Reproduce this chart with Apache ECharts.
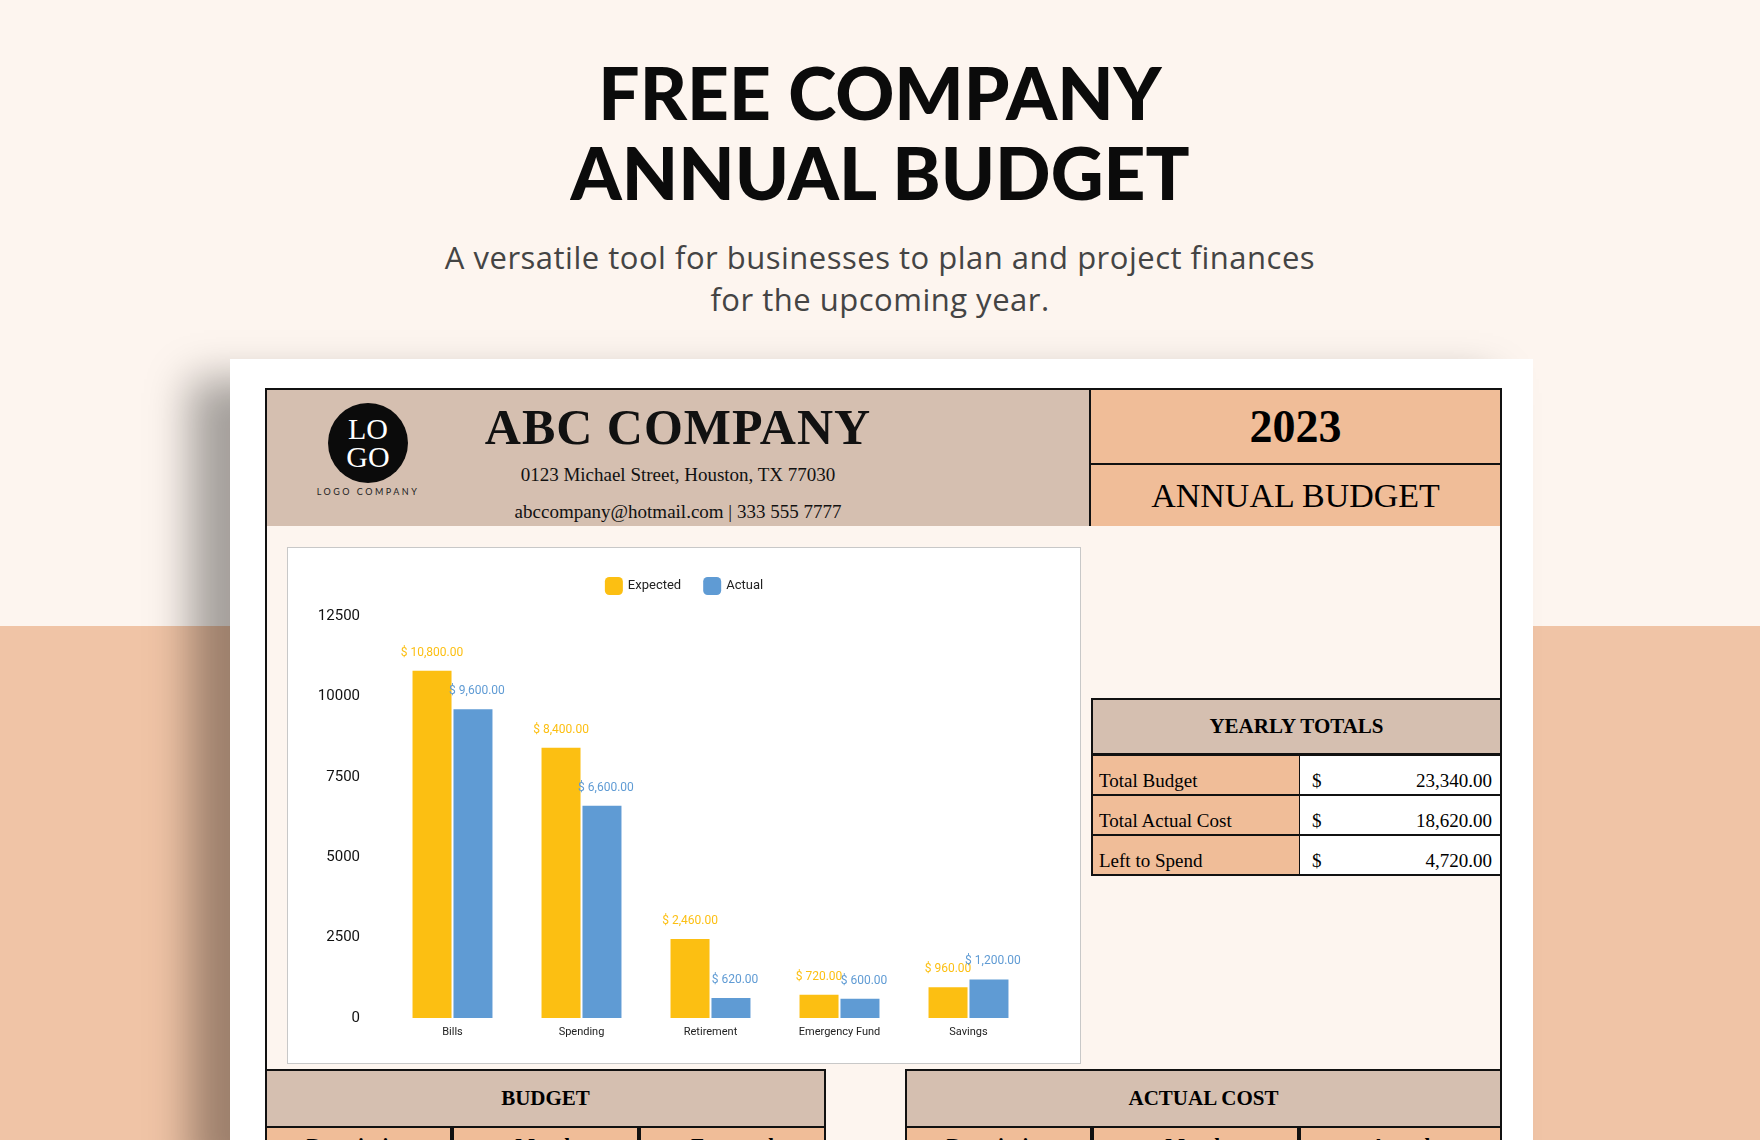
<!DOCTYPE html>
<html>
<head>
<meta charset="utf-8">
<script src="https://cdn.jsdelivr.net/npm/echarts@6/dist/echarts.min.js"></script>
<style>
body { margin: 0; width: 1760px; height: 1140px; overflow: hidden; position: relative; background: #f0c4a6; font-family: "Liberation Serif", serif; }
.abs { position: absolute; box-sizing: border-box; }
.sans { font-family: Lato, "Open Sans", sans-serif; }
.cell { display: flex; align-items: center; justify-content: center; }
</style>
</head>
<body>
<div class="abs" style="left:0;top:0;width:1760px;height:626px;background:#fdf5ef;"></div>
<div class="abs sans" style="left:0;top:52px;width:1760px;text-align:center;font-weight:900;font-size:73px;line-height:80px;color:#0b0b0b;">FREE COMPANY<br>ANNUAL BUDGET</div>
<div class="abs" style="left:0;top:236px;width:1760px;text-align:center;font-family:'Open Sans',sans-serif;font-size:31px;line-height:42px;color:#444;letter-spacing:0.5px;">A versatile tool for businesses to plan and project finances<br>for the upcoming year.</div>

<div class="abs" style="left:230px;top:359px;width:1303px;height:800px;background:#fff;box-shadow:-40px 20px 40px rgba(0,0,0,0.35);"></div>

<!-- header -->
<div class="abs" style="left:265px;top:388px;width:826px;height:140px;background:#d5bfb0;border:2px solid #111;"></div>
<div class="abs cell" style="left:328px;top:403px;width:80px;height:80px;border-radius:50%;background:#0b0b0b;color:#fff;font-size:30px;line-height:28px;text-align:center;">LO<br>GO</div>
<div class="abs sans" style="left:300px;top:486px;width:136px;text-align:center;font-size:9px;letter-spacing:2.5px;color:#222;">LOGO COMPANY</div>
<div class="abs" style="left:440px;top:398px;width:476px;text-align:center;font-size:50px;font-weight:bold;letter-spacing:1px;color:#111;">ABC COMPANY</div>
<div class="abs" style="left:440px;top:464px;width:476px;text-align:center;font-size:19px;color:#111;">0123 Michael Street, Houston, TX 77030</div>
<div class="abs" style="left:440px;top:501px;width:476px;text-align:center;font-size:19px;color:#111;">abccompany@hotmail.com | 333 555 7777</div>
<div class="abs cell" style="left:1089px;top:388px;width:413px;height:77px;background:#f0bd98;border:2px solid #111;font-size:46px;font-weight:bold;">2023</div>
<div class="abs cell" style="left:1089px;top:463px;width:413px;height:65px;background:#f0bd98;border:2px solid #111;font-size:34px;">ANNUAL BUDGET</div>

<!-- body -->
<div class="abs" style="left:265px;top:526px;width:1237px;height:620px;background:#fdf5ef;border-left:2px solid #111;border-right:2px solid #111;"></div>
<div id="chart" class="abs" style="left:287px;top:547px;width:794px;height:517px;background:#fff;border:1px solid #c8c8c8;"></div>

<!-- yearly totals -->
<div class="abs" style="left:1091px;top:698px;width:411px;height:178px;border:2px solid #111;background:#fdf5ef;"></div>
<div class="abs cell" style="left:1091px;top:698px;width:411px;height:57px;background:#d5bfb0;border:2px solid #111;font-size:21px;font-weight:bold;">YEARLY TOTALS</div>
<div id="totals"></div>

<!-- bottom tables -->
<div class="abs cell" style="left:265px;top:1069px;width:561px;height:59px;background:#d5bfb0;border:2px solid #111;font-size:21px;font-weight:bold;">BUDGET</div>
<div class="abs cell" style="left:905px;top:1069px;width:597px;height:59px;background:#d5bfb0;border:2px solid #111;font-size:21px;font-weight:bold;">ACTUAL COST</div>
<div id="heads"></div>

<script>
// 图表数据
var categories = ["Bills", "Spending", "Retirement", "Emergency Fund", "Savings"];
var expected = [10800, 8400, 2460, 720, 960];
var actual = [9600, 6600, 620, 600, 1200];
var totalLabels = ["Total Budget", "Total Actual Cost", "Left to Spend"];
var totalValues = ["23,340.00", "18,620.00", "4,720.00"];

// 汇总表
var html = "";
for (var i = 0; i < 3; i++) {
	var rowTop = 755 + i * 40;
	html += '<div class="abs" style="left:1091px;top:' + rowTop + 'px;width:210px;height:40px;background:#f0bd98;border:1px solid #111;border-left:2px solid #111;font-size:19px;padding:14px 0 0 6px;">' + totalLabels[i] + '</div>';
	html += '<div class="abs" style="left:1299px;top:' + rowTop + 'px;width:203px;height:40px;background:#fff;border:1px solid #111;border-right:2px solid #111;font-size:19px;padding:14px 8px 0 12px;display:flex;justify-content:space-between;"><span>$</span><span>' + totalValues[i] + '</span></div>';
}
document.getElementById("totals").innerHTML = html;

var heads = [[265, 452, "Description"], [452, 639, "Month"], [639, 826, "Expected"],
	[905, 1092, "Description"], [1092, 1299, "Month"], [1299, 1502, "Actual"]];
html = "";
heads.forEach(function (h) {
	html += '<div class="abs" style="left:' + h[0] + 'px;top:1126px;width:' + (h[1] - h[0]) + 'px;height:40px;background:#f0bd98;border:2px solid #111;text-align:center;font-size:21px;font-weight:bold;padding-top:6px;">' + h[2] + '</div>';
});
document.getElementById("heads").innerHTML = html;

function money(p) {
	return "$ " + p.value.toLocaleString("en-US", {minimumFractionDigits: 2});
}

var chart = echarts.init(document.getElementById("chart"));
chart.setOption({
	animation: false,
	textStyle: { fontFamily: "Roboto, sans-serif" },
	legend: {
		top: 24,
		left: "center",
		itemWidth: 18,
		itemHeight: 18,
		itemGap: 22,
		textStyle: { fontSize: 13, color: "#222" },
		data: ["Expected", "Actual"]
	},
	grid: { left: 100, right: 47, top: 68, bottom: 45 },
	xAxis: {
		type: "category",
		data: categories,
		axisLine: { show: false },
		axisTick: { show: false },
		axisLabel: { fontSize: 11, color: "#222", margin: 9 }
	},
	yAxis: {
		type: "value",
		min: 0,
		max: 12500,
		interval: 2500,
		splitLine: { show: false },
		axisLabel: { fontSize: 15, color: "#111", margin: 28, formatter: function (v) { return String(v); } }
	},
	series: [
		{
			name: "Expected",
			type: "bar",
			data: expected,
			barWidth: 39,
			barGap: "5%",
			itemStyle: { color: "#fcbf12" },
			label: { show: true, position: "top", distance: 12, formatter: money, fontSize: 12, color: "#fcbf12" }
		},
		{
			name: "Actual",
			type: "bar",
			data: actual,
			barWidth: 39,
			itemStyle: { color: "#5f9bd4" },
			label: { show: true, position: "top", distance: 12, offset: [4, 0], formatter: money, fontSize: 12, color: "#5f9bd4" }
		}
	]
});
</script>
</body>
</html>
